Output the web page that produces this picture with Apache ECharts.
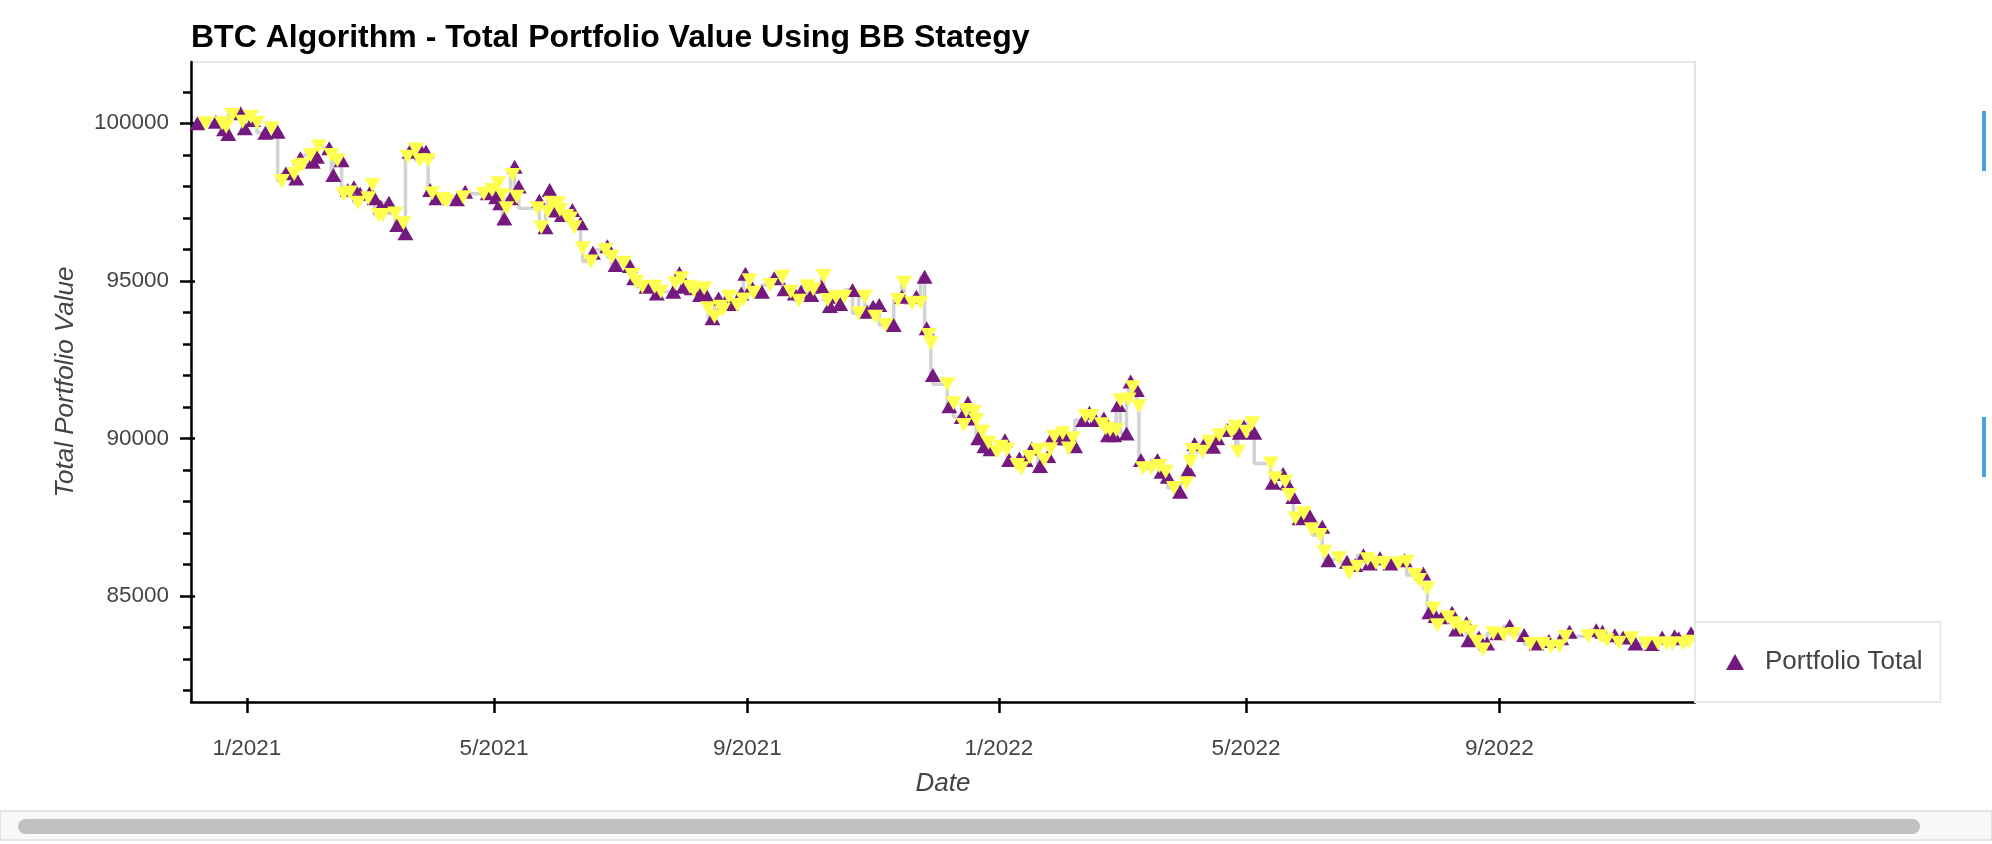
<!DOCTYPE html>
<html><head><meta charset="utf-8">
<script src="https://cdn.jsdelivr.net/npm/echarts@6/dist/echarts.min.js"></script>
<style>html,body{margin:0;padding:0;background:#fff}#c{width:1992px;height:844px}</style>
</head><body><div id="c"></div><script>
const chartTitle = 'BTC Algorithm - Total Portfolio Value Using BB Stategy';
const yTitle = 'Total Portfolio Value';
const xTitle = 'Date';
const legendLabel = 'Portfolio Total';
const yTickValues = [85000, 90000, 95000, 100000];
const yMinorValues = [82000,83000,84000,86000,87000,88000,89000,91000,92000,93000,94000,96000,97000,98000,99000,101000];
const xTickDates = ['2021-01-01','2021-05-01','2021-09-01','2022-01-01','2022-05-01','2022-09-01'];
const xRange = ['2020-12-04 22:00', '2022-12-04 22:00'];
const yRange = [81630, 101945];

const buyDates = ['2020-12-08','2020-12-17','2020-12-21','2020-12-23','2020-12-29','2020-12-31','2021-01-04','2021-01-10','2021-01-16','2021-01-20','2021-01-25','2021-01-27','2021-02-02','2021-02-04','2021-02-10','2021-02-12','2021-02-16','2021-02-19','2021-02-22','2021-02-25','2021-03-02','2021-03-04','2021-03-07','2021-03-11','2021-03-15','2021-03-19','2021-03-21','2021-03-27','2021-03-29','2021-03-31','2021-04-03','2021-04-13','2021-04-17','2021-04-28','2021-05-02','2021-05-04','2021-05-06','2021-05-09','2021-05-11','2021-05-13','2021-05-23','2021-05-26','2021-05-28','2021-05-31','2021-06-03','2021-06-08','2021-06-12','2021-06-18','2021-06-25','2021-06-29','2021-07-06','2021-07-08','2021-07-14','2021-07-19','2021-07-27','2021-07-30','2021-08-01','2021-08-05','2021-08-09','2021-08-12','2021-08-15','2021-08-18','2021-08-21','2021-08-24','2021-08-29','2021-08-31','2021-09-03','2021-09-08','2021-09-14','2021-09-19','2021-09-24','2021-09-27','2021-10-02','2021-10-07','2021-10-11','2021-10-13','2021-10-16','2021-10-22','2021-10-29','2021-11-01','2021-11-04','2021-11-11','2021-11-15','2021-11-22','2021-11-26','2021-11-27','2021-11-30','2021-12-08','2021-12-14','2021-12-17','2021-12-18','2021-12-22','2021-12-25','2021-12-28','2022-01-04','2022-01-06','2022-01-11','2022-01-14','2022-01-17','2022-01-21','2022-01-25','2022-01-27','2022-01-31','2022-02-03','2022-02-07','2022-02-11','2022-02-14','2022-02-17','2022-02-21','2022-02-23','2022-02-26','2022-02-28','2022-03-04','2022-03-06','2022-03-09','2022-03-11','2022-03-19','2022-03-21','2022-03-24','2022-03-30','2022-04-03','2022-04-06','2022-04-11','2022-04-15','2022-04-17','2022-04-22','2022-04-28','2022-04-30','2022-05-05','2022-05-14','2022-05-19','2022-05-21','2022-05-24','2022-05-27','2022-06-01','2022-06-07','2022-06-10','2022-06-19','2022-06-23','2022-06-27','2022-06-30','2022-07-05','2022-07-10','2022-07-17','2022-07-26','2022-07-29','2022-08-01','2022-08-04','2022-08-09','2022-08-11','2022-08-16','2022-08-17','2022-08-22','2022-08-26','2022-08-31','2022-09-06','2022-09-13','2022-09-19','2022-09-25','2022-10-01','2022-10-05','2022-10-18','2022-10-21','2022-10-27','2022-10-31','2022-11-06','2022-11-14','2022-11-19','2022-11-25','2022-11-27','2022-12-03'];
const buyValues = [100000,100050,99810,99660,100320,99840,100100,99700,99730,98410,98250,98890,98780,98940,99210,98360,98830,97880,97970,97760,97830,97620,97350,97480,96770,96510,99100,99070,99100,97880,97620,97590,97830,97780,97650,97460,96980,97620,98620,97990,97540,96700,97880,97230,97090,97250,96830,95890,96100,95500,95470,95080,94810,94600,94650,95240,94810,94760,94550,94550,93810,94440,94290,94260,94600,95220,94810,94650,95080,94730,94600,94650,94550,94810,94200,94490,94260,94710,94020,94180,94230,93600,94490,94490,95130,93490,92010,91020,90680,91130,90630,90000,89750,89650,89940,89310,89360,89310,89680,89120,89440,90050,90000,90000,89750,90580,90810,90580,90630,90100,90100,91060,90150,91800,91530,89310,89310,88940,88780,88300,89000,89820,89840,89730,90000,90260,90180,90370,90180,88590,88870,88570,88140,87460,87530,87190,86130,86080,85980,86290,86030,86190,86030,86130,85710,84480,84360,84320,84460,83930,84140,83590,83680,83490,83810,84040,83760,83490,83570,83650,83860,83910,83860,83750,83680,83490,83470,83680,83720,83650,83810];

const sellDates = ['2020-12-12','2020-12-20','2020-12-22','2020-12-25','2020-12-30','2021-01-03','2021-01-06','2021-01-13','2021-01-18','2021-01-24','2021-01-26','2021-01-28','2021-02-01','2021-02-05','2021-02-11','2021-02-14','2021-02-17','2021-02-20','2021-02-24','2021-03-01','2021-03-03','2021-03-06','2021-03-08','2021-03-14','2021-03-18','2021-03-20','2021-03-24','2021-03-26','2021-03-30','2021-04-01','2021-04-06','2021-04-08','2021-04-16','2021-04-26','2021-04-30','2021-05-03','2021-05-05','2021-05-07','2021-05-10','2021-05-12','2021-05-22','2021-05-24','2021-05-27','2021-05-29','2021-06-01','2021-06-02','2021-06-05','2021-06-07','2021-06-09','2021-06-13','2021-06-17','2021-06-24','2021-06-27','2021-07-03','2021-07-07','2021-07-09','2021-07-12','2021-07-18','2021-07-21','2021-07-28','2021-07-31','2021-08-04','2021-08-06','2021-08-11','2021-08-13','2021-08-16','2021-08-19','2021-08-20','2021-08-23','2021-08-27','2021-08-30','2021-09-02','2021-09-04','2021-09-12','2021-09-18','2021-09-22','2021-09-26','2021-09-30','2021-10-03','2021-10-08','2021-10-10','2021-10-14','2021-10-18','2021-10-25','2021-10-28','2021-11-02','2021-11-07','2021-11-13','2021-11-16','2021-11-20','2021-11-24','2021-11-28','2021-11-29','2021-12-07','2021-12-10','2021-12-15','2021-12-16','2021-12-20','2021-12-21','2021-12-24','2021-12-27','2021-12-31','2022-01-02','2022-01-05','2022-01-10','2022-01-12','2022-01-16','2022-01-20','2022-01-23','2022-01-26','2022-01-28','2022-02-01','2022-02-04','2022-02-06','2022-02-12','2022-02-15','2022-02-20','2022-02-22','2022-02-24','2022-02-27','2022-03-01','2022-03-05','2022-03-07','2022-03-10','2022-03-12','2022-03-16','2022-03-20','2022-03-23','2022-03-27','2022-04-02','2022-04-04','2022-04-05','2022-04-10','2022-04-13','2022-04-18','2022-04-24','2022-04-26','2022-04-27','2022-05-01','2022-05-04','2022-05-13','2022-05-15','2022-05-20','2022-05-22','2022-05-25','2022-05-29','2022-06-02','2022-06-06','2022-06-08','2022-06-15','2022-06-20','2022-06-24','2022-06-29','2022-07-03','2022-07-07','2022-07-14','2022-07-18','2022-07-22','2022-07-24','2022-07-28','2022-07-31','2022-08-02','2022-08-07','2022-08-10','2022-08-13','2022-08-15','2022-08-18','2022-08-21','2022-08-24','2022-08-29','2022-09-03','2022-09-08','2022-09-16','2022-09-22','2022-09-26','2022-09-30','2022-10-03','2022-10-14','2022-10-20','2022-10-23','2022-10-29','2022-11-04','2022-11-11','2022-11-17','2022-11-21','2022-11-24','2022-11-29','2022-12-02'];
const sellValues = [100000,100000,99890,100260,100050,100210,100020,99840,98170,98390,98620,98680,98990,99260,98990,98830,97750,97800,97480,97620,98040,97090,97090,97140,96830,98940,99170,98830,98830,97780,97600,97540,97650,97760,97880,98100,97720,97300,98360,97670,97300,96700,97190,97480,97460,97250,97060,96980,96700,96030,95610,95980,95760,95570,95180,94970,94810,94810,94650,94920,95080,94810,94690,94760,94130,93860,94180,94070,94490,94230,94410,95020,94620,94870,95130,94650,94370,94830,94730,95150,94390,94480,94490,93970,94490,93860,93600,94390,94940,94290,94300,93280,93020,91720,91110,90420,90900,90840,90580,90210,89860,89570,89730,89650,89150,89050,89410,89630,89310,89650,90050,90160,89680,90000,90710,90710,90450,90320,90260,90260,91210,91230,91620,91020,89050,89050,89120,88940,88420,88570,89260,89630,89570,89890,90100,90210,90370,89570,90210,90480,89200,88730,88620,88200,87460,87620,87110,86930,86400,86190,85730,85920,86160,86050,86030,86030,86080,85660,85500,85240,84600,84070,84320,84130,83970,84000,83860,83540,83300,83810,83760,83790,83470,83470,83380,83400,83700,83720,83720,83590,83510,83650,83490,83490,83490,83490,83490,83540];

const FONT = "'Liberation Sans', Arial, Helvetica, sans-serif";
const ts = s => echarts.time.parse(s).getTime();
const buyData = buyDates.map((d, i) => [ts(d), buyValues[i]]);
const sellData = sellDates.map((d, i) => [ts(d), sellValues[i]]);
const lineData = buyData.concat(sellData).sort((a, b) => a[0] - b[0]);
const xTicks = xTickDates.map(ts);
const xMin = ts(xRange[0]), xMax = ts(xRange[1]);

const chart = echarts.init(document.getElementById('c'), null, {renderer: 'canvas'});
const axisLineStyle = {color: '#000', width: 2.5};
const option = {
  animation: false,
  backgroundColor: '#fff',
  title: {
    text: chartTitle, left: 191, top: 22, padding: 0,
    textStyle: {fontSize: 32, fontWeight: 'bold', color: '#000', fontFamily: FONT}
  },
  grid: {left: 191, top: 62, width: 1504, height: 640, show: true, borderColor: '#e5e5e5', borderWidth: 2, backgroundColor: '#fff'},
  legend: {
    data: [{name: legendLabel, icon: 'triangle'}],
    left: 1695, top: 622, orient: 'vertical',
    padding: [24, 18, 24, 31],
    itemWidth: 18, itemHeight: 16,
    borderColor: '#e8e8e8', borderWidth: 2, backgroundColor: '#fff',
    textStyle: {fontSize: 26, color: '#444', fontFamily: FONT, padding: [0, 0, 0, 16], lineHeight: 32}
  },
  xAxis: [{
    type: 'value', min: xMin, max: xMax,
    axisLine: {show: true, onZero: false, lineStyle: axisLineStyle},
    axisTick: {show: true, customValues: xTicks, length: 11, lineStyle: axisLineStyle},
    axisLabel: {customValues: xTicks, margin: 35, fontSize: 22.5, color: '#444', fontFamily: FONT,
      formatter: v => { const d = new Date(v); return (d.getMonth() + 1) + '/' + d.getFullYear(); }},
    splitLine: {show: false},
    name: xTitle, nameLocation: 'middle', nameGap: 69,
    nameTextStyle: {fontSize: 26, fontStyle: 'italic', color: '#444', fontFamily: FONT}
  }, {
    type: 'value', min: xMin, max: xMax, position: 'bottom',
    axisLine: {show: false, onZero: false},
    axisTick: {show: true, inside: true, customValues: xTicks, length: 4, lineStyle: axisLineStyle},
    axisLabel: {show: false}, splitLine: {show: false}
  }],
  yAxis: [{
    type: 'value', min: yRange[0], max: yRange[1],
    axisLine: {show: true, onZero: false, lineStyle: axisLineStyle},
    axisTick: {show: true, customValues: yTickValues, length: 11, lineStyle: axisLineStyle},
    axisLabel: {customValues: yTickValues, margin: 22, fontSize: 22.5, color: '#444', fontFamily: FONT, formatter: v => String(v)},
    splitLine: {show: false},
    name: yTitle, nameLocation: 'middle', nameGap: 112,
    nameTextStyle: {fontSize: 26, fontStyle: 'italic', color: '#444', fontFamily: FONT}
  }, {
    type: 'value', min: yRange[0], max: yRange[1], position: 'left',
    axisLine: {show: false},
    axisTick: {show: true, customValues: yMinorValues, length: 8, lineStyle: axisLineStyle},
    axisLabel: {show: false}, splitLine: {show: false}
  }, {
    type: 'value', min: yRange[0], max: yRange[1], position: 'left',
    axisLine: {show: false},
    axisTick: {show: true, inside: true, customValues: yTickValues, length: 4, lineStyle: axisLineStyle},
    axisLabel: {show: false}, splitLine: {show: false}
  }],
  series: [{
    name: 'Portfolio Line', type: 'line', step: 'start', showSymbol: false, silent: true,
    data: lineData, lineStyle: {color: '#d3d3d3', width: 3.5}, z: 1
  }, {
    name: legendLabel, type: 'scatter', symbol: 'triangle', symbolSize: [16, 14],
    itemStyle: {color: '#741a7f', opacity: 1}, data: buyData, z: 2
  }, {
    name: 'Exit', type: 'scatter', symbol: 'triangle', symbolRotate: 180, symbolSize: [16, 14],
    itemStyle: {color: '#ffff4f', opacity: 1}, data: sellData, z: 3
  }],
  graphic: [
    {type: 'rect', shape: {x: 0, y: 811, width: 1992, height: 29}, style: {fill: '#f8f8f8', stroke: '#e6e6e6', lineWidth: 2}, z: 100},
    {type: 'rect', shape: {x: 18, y: 819, width: 1902, height: 15, r: 7.5}, style: {fill: '#c1c1c1'}, z: 101},
    {type: 'rect', shape: {x: 1982, y: 111, width: 4, height: 60}, style: {fill: '#4aa3dd'}, z: 101},
    {type: 'rect', shape: {x: 1982, y: 417, width: 4, height: 60}, style: {fill: '#4aa3dd'}, z: 101}
  ]
};
chart.setOption(option);
</script></body></html>
